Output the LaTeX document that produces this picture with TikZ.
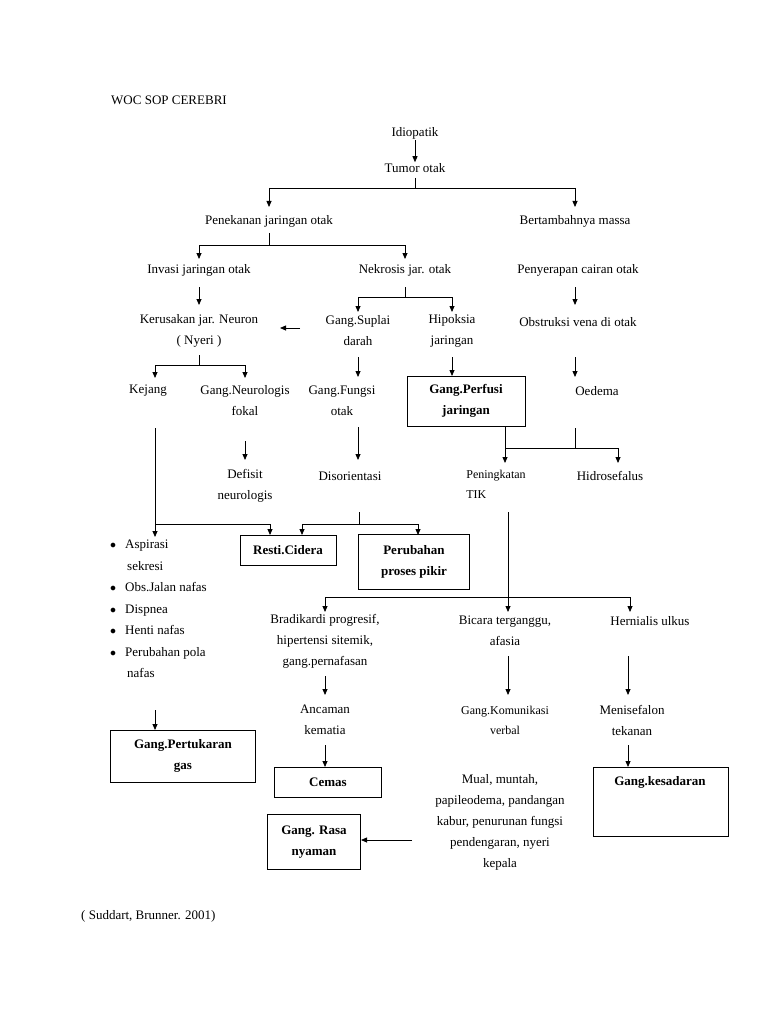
\documentclass[tikz,border=0pt]{standalone}
\usepackage{fontspec}
\setmainfont{Liberation Serif}
\usetikzlibrary{arrows.meta}
\begin{document}
\begin{tikzpicture}[x=1pt,y=-1pt,
  t/.style={align=center,font=\fontsize{13}{21}\selectfont,inner sep=1pt},
  s/.style={align=left,font=\fontsize{12}{20}\selectfont,inner sep=1pt},
  b/.style={draw,thick,align=center,font=\fontsize{13}{21}\selectfont\bfseries,inner sep=0pt},
  a/.style={-{Triangle[length=6pt,width=5pt]},thick},
  l/.style={thick}]
\useasboundingbox (0,0) rectangle (768,1024);
\node[anchor=west,t] (title) at (110,100) {WOC SOP CEREBRI};
\node[t] (idio) at (415,133) {Idiopatik};
\node[t] (tumor) at (415,168) {Tumor otak};
\node[t] (pen) at (269,221) {Penekanan jaringan otak};
\node[t] (bert) at (575,221) {Bertambahnya massa};
\node[t] (inv) at (199,270) {Invasi jaringan otak};
\node[t] (nek) at (405,270) {Nekrosis jar. otak};
\node[t] (peny) at (578,270) {Penyerapan cairan otak};
\node[t] (ker) at (199,331) {Kerusakan jar. Neuron\\( Nyeri )};
\node[t] (sup) at (358,331) {Gang.Suplai\\darah};
\node[t] (hip) at (452,331) {Hipoksia\\jaringan};
\node[t] (obs) at (578,322) {Obstruksi vena di otak};
\node[t] (kej) at (148,391) {Kejang};
\node[t] (neu) at (245,401) {Gang.Neurologis\\fokal};
\node[t] (fun) at (342,401) {Gang.Fungsi\\otak};
\node[b,minimum width=118pt,minimum height=50pt] (perf) at (466,401) {Gang.Perfusi\\jaringan};
\node[t] (oed) at (597,391) {Oedema};
\node[t] (def) at (245,486) {Defisit\\neurologis};
\node[t] (dis) at (350,476) {Disorientasi};
\node[s] (tik) at (496,484) {Peningkatan\\TIK};
\node[t] (hid) at (610,476) {Hidrosefalus};
\node[b,minimum width=96pt,minimum height=30pt] (res) at (288,550) {Resti.Cidera};
\node[b,minimum width=111pt,minimum height=55pt] (pp) at (414,562) {Perubahan\\proses pikir};
\node[anchor=north west,font=\fontsize{13}{21.5}\selectfont,align=left,inner sep=0pt] (bul) at (110,540) {%
\begin{minipage}{130pt}\raggedright
$\bullet$\hspace{9pt}Aspirasi\\\hspace*{17pt}sekresi\\
$\bullet$\hspace{9pt}Obs.Jalan nafas\\
$\bullet$\hspace{9pt}Dispnea\\
$\bullet$\hspace{9pt}Henti nafas\\
$\bullet$\hspace{9pt}Perubahan pola\\\hspace*{17pt}nafas\end{minipage}};
\node[b,minimum width=145pt,minimum height=52pt] (pert) at (183,756) {Gang.Pertukaran\\gas};
\node[t] (bra) at (325,641) {Bradikardi progresif,\\hipertensi sitemik,\\gang.pernafasan};
\node[t] (bic) at (505,631) {Bicara terganggu,\\afasia};
\node[t] (her) at (650,621) {Hernialis ulkus};
\node[t] (anc) at (325,720) {Ancaman\\kematia};
\node[s,align=center] (kom) at (505,720) {Gang.Komunikasi\\verbal};
\node[t] (men) at (632,720) {Menisefalon\\tekanan};
\node[b,minimum width=107pt,minimum height=30pt] (cem) at (328,782) {Cemas};
\draw[thick] (593,767) rectangle (728,836);
\node[b,draw=none] (kes) at (660,782) {Gang.kesadaran};
\node[t] (mual) at (500,822) {Mual, muntah,\\papileodema, pandangan\\kabur, penurunan fungsi\\pendengaran, nyeri\\kepala};
\node[b,minimum width=93pt,minimum height=55pt] (ras) at (314,842) {Gang. Rasa\\nyaman};
\node[anchor=west,t] (ref) at (80,916) {( Suddart, Brunner. 2001)};
% edges
\draw[a] (idio) -- (tumor);
\draw[l] (415,178) -- (415,188);
\draw[l] (269,188) -- (575,188);
\draw[a] (269,188) -- (269,207);
\draw[a] (575,188) -- (575,207);
\draw[l] (269,233) -- (269,245) (199,245) -- (405,245);
\draw[a] (199,245) -- (199,259);
\draw[a] (405,245) -- (405,259);
\draw[a] (199,287) -- (199,305);
\draw[a] (575,287) -- (575,305);
\draw[l] (405,287) -- (405,297) (358,297) -- (452,297);
\draw[a] (358,297) -- (358,312);
\draw[a] (452,297) -- (452,312);
\draw[a] (300,328) -- (280,328);
\draw[l] (199,355) -- (199,365) (155,365) -- (245,365);
\draw[a] (155,365) -- (155,378);
\draw[a] (245,365) -- (245,378);
\draw[a] (358,357) -- (358,377);
\draw[a] (452,357) -- (452,376);
\draw[a] (575,357) -- (575,377);
\draw[a] (245,441) -- (245,460);
\draw[a] (358,427) -- (358,460);
\draw[l] (505,426) -- (505,448) (575,428) -- (575,448) (505,448) -- (618,448);
\draw[a] (505,448) -- (505,463);
\draw[a] (618,448) -- (618,463);
\draw[l] (155,428) -- (155,524) -- (270,524);
\draw[a] (155,524) -- (155,537);
\draw[a] (270,524) -- (270,535);
\draw[l] (359,512) -- (359,524) (302,524) -- (418,524);
\draw[a] (302,524) -- (302,535);
\draw[a] (418,524) -- (418,535);
\draw[l] (508,512) -- (508,597) (325,597) -- (630,597);
\draw[a] (325,597) -- (325,612);
\draw[a] (508,597) -- (508,612);
\draw[a] (630,597) -- (630,612);
\draw[a] (155,710) -- (155,730);
\draw[a] (325,676) -- (325,695);
\draw[a] (508,656) -- (508,695);
\draw[a] (628,656) -- (628,695);
\draw[a] (325,745) -- (325,767);
\draw[a] (628,745) -- (628,767);
\draw[a] (412,840) -- (361,840);
\end{tikzpicture}
\end{document}
